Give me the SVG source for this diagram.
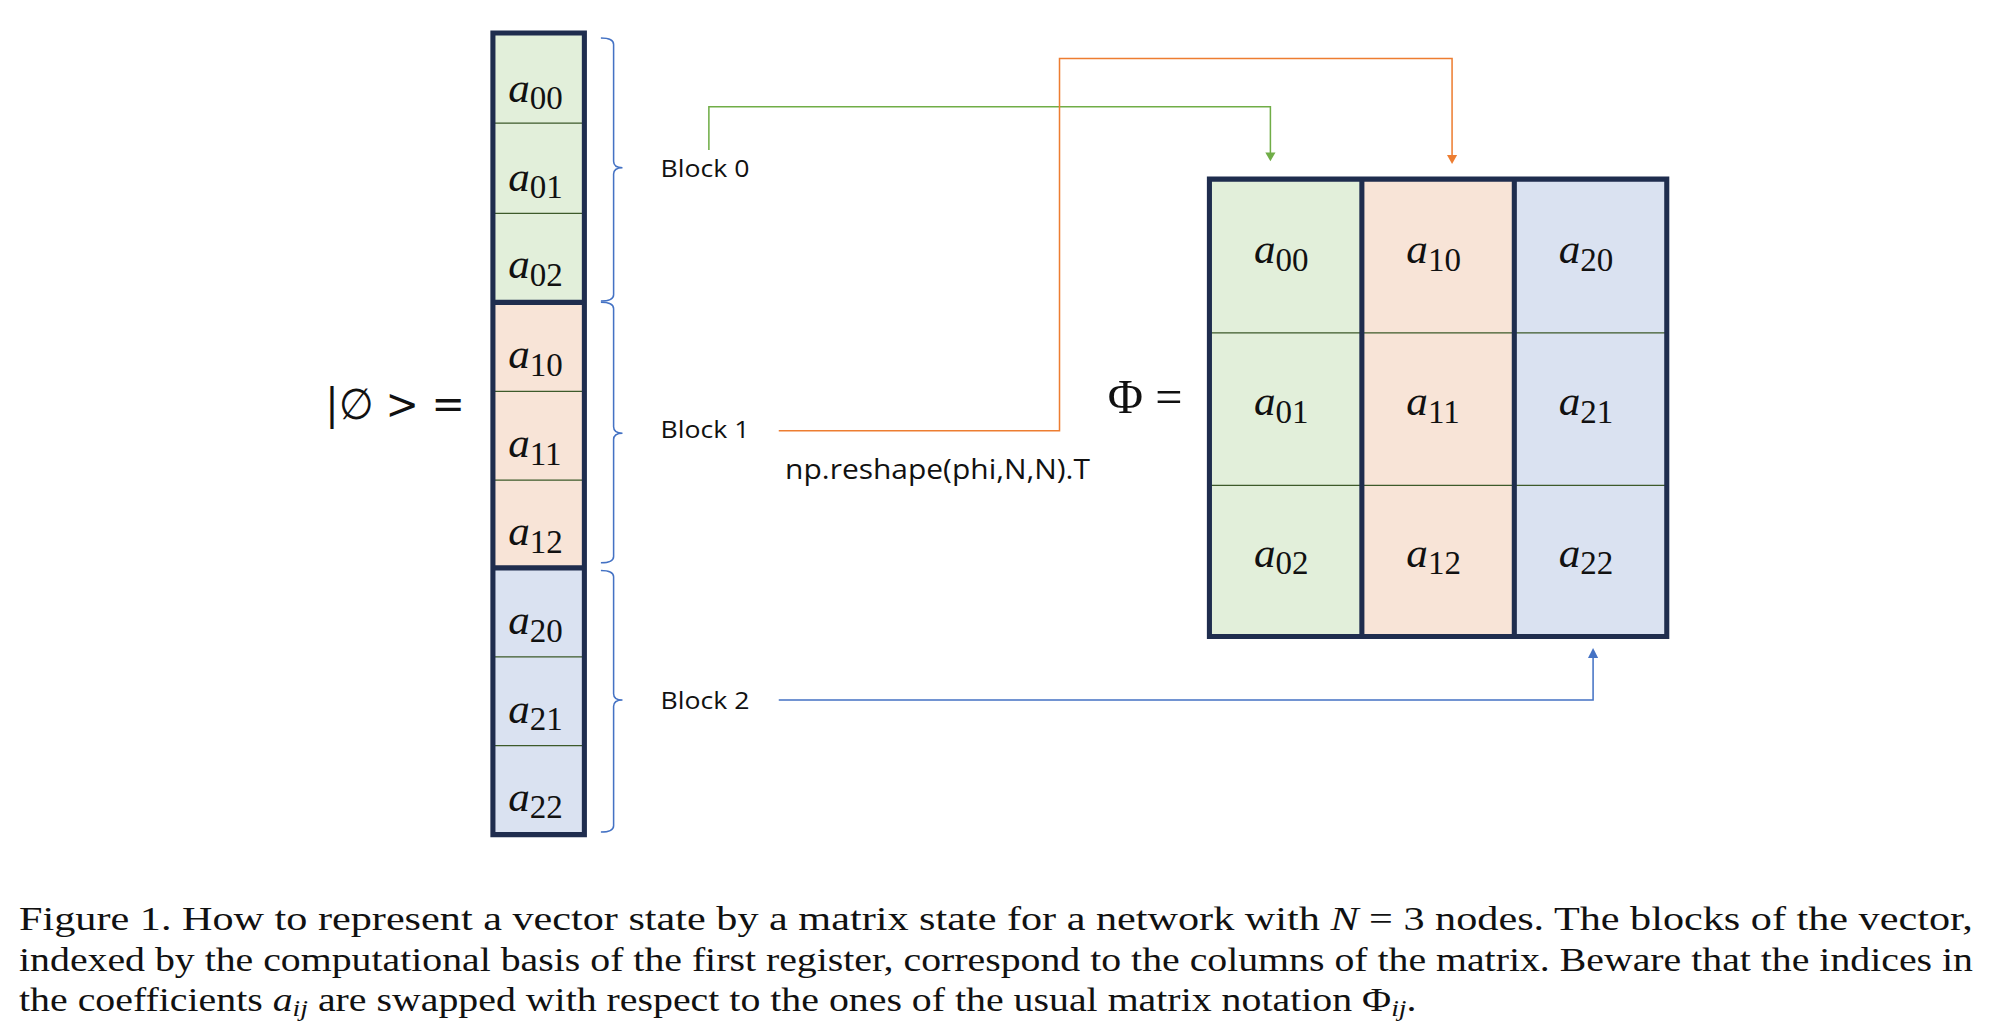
<svg xmlns="http://www.w3.org/2000/svg" width="1992" height="1036" viewBox="0 0 1992 1036">
<style>
.g{fill:#e2efda}.o{fill:#f8e4d7}.b{fill:#dae2f1}
.thin{stroke:#3d5a2a;stroke-width:1;fill:none}
.thick{stroke:#1f2d4e;stroke-width:4;fill:none}
.m{font-family:"Liberation Serif",serif;font-style:italic;font-size:34px;fill:#111}
.s{font-style:normal;font-size:26px}
.lbl{font-family:"Open Sans","Liberation Sans",sans-serif;font-size:19px;fill:#111}
.cap{font-family:"Liberation Serif",serif;font-size:26px;fill:#111}
.br{stroke:#4472c4;stroke-width:1.2;fill:none}
</style>
<rect width="1992" height="1036" fill="#fff"/>
<g transform="scale(1.2704)">
<g id="vector">
<rect x="388" y="26" width="72" height="212" class="g"/>
<rect x="388" y="238" width="72" height="209" class="o"/>
<rect x="388" y="447" width="72" height="210" class="b"/>
<path class="thin" d="M388 97H460M388 168H460M388 308H460M388 378H460M388 517H460M388 587H460"/>
<path class="thick" d="M388 26H460V657H388Z M388 238H460 M388 447H460"/>
<text class="m" x="400" y="80">a<tspan class="s" dy="6">00</tspan></text>
<text class="m" x="400" y="150">a<tspan class="s" dy="6">01</tspan></text>
<text class="m" x="400" y="219">a<tspan class="s" dy="6">02</tspan></text>
<text class="m" x="400" y="290">a<tspan class="s" dy="6">10</tspan></text>
<text class="m" x="400" y="360">a<tspan class="s" dy="6">11</tspan></text>
<text class="m" x="400" y="429">a<tspan class="s" dy="6">12</tspan></text>
<text class="m" x="400" y="499">a<tspan class="s" dy="6">20</tspan></text>
<text class="m" x="400" y="569">a<tspan class="s" dy="6">21</tspan></text>
<text class="m" x="400" y="638">a<tspan class="s" dy="6">22</tspan></text>
</g>
<g id="braces">
<path class="br" d="M473 30Q483 30 483 35V127Q483 132 490 132Q483 132 483 137V232Q483 237 473 237"/>
<path class="br" d="M473 238Q483 238 483 243V336Q483 341 490 341Q483 341 483 346V438Q483 443 473 443"/>
<path class="br" d="M473 449Q483 449 483 454V546Q483 551 490 551Q483 551 483 556V650Q483 655 473 655"/>
</g>
<g id="labels">
<text class="lbl" x="520" y="139" textLength="70" lengthAdjust="spacingAndGlyphs">Block 0</text>
<text class="lbl" x="520" y="345" textLength="70" lengthAdjust="spacingAndGlyphs">Block 1</text>
<text class="lbl" x="520" y="558" textLength="70" lengthAdjust="spacingAndGlyphs">Block 2</text>
<text class="lbl" x="618" y="377" style="font-size:21px" textLength="240" lengthAdjust="spacingAndGlyphs">np.reshape(phi,N,N).T</text>
<text x="256" y="330" style="font-family:'DejaVu Serif','Liberation Serif',serif;font-size:34px;fill:#111" textLength="110" lengthAdjust="spacingAndGlyphs">|∅ &gt; =</text>
<text x="872" y="325" style="font-family:'Liberation Serif',serif;font-size:38px;fill:#111">Φ =</text>
</g>
<g id="connectors" fill="none" stroke-width="1.2">
<path d="M558 118V84H1000V122" stroke="#70ad47"/>
<path d="M996 120L1000 127L1004 120Z" fill="#70ad47"/>
<path d="M613 339H834V46H1143V124" stroke="#ed7d31"/>
<path d="M1139 122L1143 129L1147 122Z" fill="#ed7d31"/>
<path d="M613 551H1254V515" stroke="#4472c4"/>
<path d="M1250 518L1254 510L1258 518Z" fill="#4472c4"/>
</g>
<g id="matrix">
<rect x="952" y="141" width="120" height="360" class="g"/>
<rect x="1072" y="141" width="120" height="360" class="o"/>
<rect x="1192" y="141" width="120" height="360" class="b"/>
<path class="thin" d="M952 262H1312M952 382H1312"/>
<path class="thick" d="M952 141H1312V501H952Z M1072 141V501 M1192 141V501"/>
<text class="m" x="987" y="207">a<tspan class="s" dy="6">00</tspan></text>
<text class="m" x="1107" y="207">a<tspan class="s" dy="6">10</tspan></text>
<text class="m" x="1227" y="207">a<tspan class="s" dy="6">20</tspan></text>
<text class="m" x="987" y="327">a<tspan class="s" dy="6">01</tspan></text>
<text class="m" x="1107" y="327">a<tspan class="s" dy="6">11</tspan></text>
<text class="m" x="1227" y="327">a<tspan class="s" dy="6">21</tspan></text>
<text class="m" x="987" y="446">a<tspan class="s" dy="6">02</tspan></text>
<text class="m" x="1107" y="446">a<tspan class="s" dy="6">12</tspan></text>
<text class="m" x="1227" y="446">a<tspan class="s" dy="6">22</tspan></text>
</g>
<g id="caption">
<text class="cap" x="15" y="732" textLength="1538" lengthAdjust="spacingAndGlyphs">Figure 1.  How to represent a vector state by a matrix state for a network with <tspan font-style="italic">N</tspan> = 3 nodes.  The blocks of the vector,</text>
<text class="cap" x="15" y="764" textLength="1538" lengthAdjust="spacingAndGlyphs">indexed by the computational basis of the first register, correspond to the columns of the matrix. Beware that the indices in</text>
<text class="cap" x="15" y="796" textLength="1100" lengthAdjust="spacingAndGlyphs">the coefficients <tspan font-style="italic">a</tspan><tspan font-style="italic" font-size="18" dy="4">ij</tspan><tspan dy="-4"> are swapped with respect to the ones of the usual matrix notation Φ</tspan><tspan font-style="italic" font-size="18" dy="4">ij</tspan><tspan dy="-4">.</tspan></text>
</g>
</g>
</svg>
